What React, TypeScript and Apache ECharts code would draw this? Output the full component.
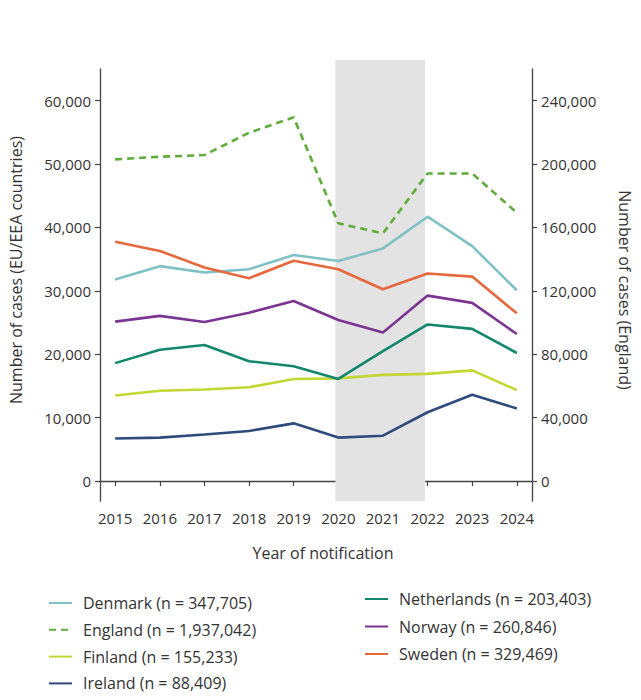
import React, { useEffect, useRef } from "react";
import * as echarts from "echarts";

const years = [2015, 2016, 2017, 2018, 2019, 2020, 2021, 2022, 2023, 2024];
const denmark = [31800, 33900, 32900, 33400, 35650, 34700, 36700, 41700, 37050, 30100];
const england = [203000, 204600, 205700, 219800, 229500, 162600, 156300, 194100, 194100, 169300];
const finland = [13500, 14250, 14450, 14800, 16100, 16200, 16750, 16900, 17450, 14350];
const ireland = [6700, 6850, 7350, 7900, 9100, 6850, 7150, 10850, 13600, 11450];
const netherlands = [18600, 20700, 21450, 18900, 18100, 16100, 20500, 24700, 24000, 20200];
const norway = [25150, 26050, 25100, 26550, 28400, 25400, 23450, 29250, 28100, 23200];
const sweden = [37750, 36300, 33700, 32000, 34750, 33400, 30250, 32750, 32250, 26450];

const legendLeftCol = [
  "Denmark (n = 347,705)",
  "England (n = 1,937,042)",
  "Finland (n = 155,233)",
  "Ireland (n = 88,409)",
];
const legendRightCol = [
  "Netherlands (n = 203,403)",
  "Norway (n = 260,846)",
  "Sweden (n = 329,469)",
];
const leftTicks = [0, 10000, 20000, 30000, 40000, 50000, 60000];
const rightTicks = [0, 40000, 80000, 120000, 160000, 200000, 240000];
const shadedPeriod = [2019.935, 2021.946];

const FONT = "'Open Sans', 'DejaVu Sans', sans-serif";
const TEXT = "#333333";

const pairs = (vals: number[]) => vals.map((v, i) => [years[i], v]);

export default function App() {
  const ref = useRef<HTMLDivElement>(null);
  useEffect(() => {
    if (!ref.current) return;
    const chart = echarts.init(ref.current, null, { renderer: "svg" });
    const fmt = (v: number) => v.toLocaleString("en-US");
    const axisLine = { show: true, lineStyle: { color: "#444", width: 1.3 } };
    const xBase = {
      type: "value",
      min: 2014.66,
      max: 2024.34,
      splitLine: { show: false },
    };
    const mk = (name: string, vals: number[], color: string, yIdx = 0, dashed = false) => ({
      name,
      type: "line",
      xAxisIndex: 0,
      yAxisIndex: yIdx,
      data: pairs(vals),
      symbol: "none",
      showSymbol: false,
      z: 3,
      lineStyle: { color, width: 2.6, type: dashed ? [7, 5] : "solid" },
      itemStyle: { color },
    });
    const legendCommon = {
      orient: "vertical",
      padding: 0,
      itemWidth: 23,
      itemHeight: 14,
      itemGap: 11.5,
      itemStyle: { opacity: 0 },
      textStyle: { color: TEXT, fontSize: 16, fontFamily: FONT, padding: [0, 0, 0, 6] },
      selectedMode: false,
    };
    chart.setOption({
      animation: false,
      textStyle: { fontFamily: FONT },
      grid: [
        { left: 100, right: 109, top: 69, bottom: 199 },
        { left: 100, right: 109, top: 60, bottom: 199 },
      ],
      xAxis: [
        {
          ...xBase,
          gridIndex: 0,
          axisLine,
          axisTick: { show: true, customValues: years, length: 5, lineStyle: { color: "#444", width: 1.2 } },
          axisLabel: {
            customValues: years,
            formatter: (v: number) => String(v),
            color: TEXT,
            fontSize: 15,
            fontFamily: FONT,
            margin: 9,
          },
        },
        { ...xBase, gridIndex: 1, show: false },
      ],
      yAxis: [
        {
          type: "value",
          gridIndex: 0,
          min: -3150,
          max: 65000,
          position: "left",
          splitLine: { show: false },
          axisLine,
          axisTick: { show: true, customValues: leftTicks, length: 5, lineStyle: { color: "#444", width: 1.2 } },
          axisLabel: { customValues: leftTicks, formatter: fmt, color: TEXT, fontSize: 15, fontFamily: FONT, margin: 9 },
        },
        {
          type: "value",
          gridIndex: 0,
          min: -12600,
          max: 260000,
          position: "right",
          splitLine: { show: false },
          axisLine,
          axisTick: { show: true, customValues: rightTicks, length: 5, lineStyle: { color: "#444", width: 1.2 } },
          axisLabel: { customValues: rightTicks, formatter: fmt, color: TEXT, fontSize: 15, fontFamily: FONT, margin: 9 },
        },
        { type: "value", gridIndex: 1, min: 0, max: 1, show: false },
      ],
      legend: [
        { ...legendCommon, data: legendLeftCol, left: 48, top: 595, itemGap: 10.8 },
        { ...legendCommon, data: legendRightCol, left: 364, top: 591 },
      ],
      graphic: [
        {
          type: "text",
          x: 16,
          y: 270,
          rotation: Math.PI / 2,
          style: {
            text: "Number of cases (EU/EEA countries)",
            fontSize: 16,
            fontFamily: FONT,
            fill: TEXT,
            textAlign: "center",
            textVerticalAlign: "middle",
          },
        },
        {
          type: "text",
          x: 625,
          y: 290,
          rotation: -Math.PI / 2,
          style: {
            text: "Number of cases (England)",
            fontSize: 16,
            fontFamily: FONT,
            fill: TEXT,
            textAlign: "center",
            textVerticalAlign: "middle",
          },
        },
        {
          type: "text",
          x: 323,
          y: 553,
          style: {
            text: "Year of notification",
            fontSize: 16,
            fontFamily: FONT,
            fill: TEXT,
            textAlign: "center",
            textVerticalAlign: "middle",
          },
        },
      ],
      series: [
        {
          name: "shade",
          type: "line",
          xAxisIndex: 1,
          yAxisIndex: 2,
          data: [[2015, 0.5]],
          symbol: "none",
          lineStyle: { opacity: 0 },
          z: 1,
          silent: true,
          markArea: {
            silent: true,
            itemStyle: { color: "#e3e3e3" },
            data: [[{ xAxis: shadedPeriod[0] }, { xAxis: shadedPeriod[1] }]],
          },
        },
        mk(legendLeftCol[0], denmark, "#80c1c6"),
        mk(legendLeftCol[1], england, "#5fac3a", 1, true),
        mk(legendLeftCol[2], finland, "#c1d834"),
        mk(legendLeftCol[3], ireland, "#2f4b7c"),
        mk(legendRightCol[0], netherlands, "#13876c"),
        mk(legendRightCol[1], norway, "#7a3593"),
        mk(legendRightCol[2], sweden, "#e5693c"),
      ],
    });
    return () => chart.dispose();
  }, []);
  return (
    <div
      ref={ref}
      style={{ position: "absolute", left: 0, top: 0, width: 641, height: 700 }}
    />
  );
}
